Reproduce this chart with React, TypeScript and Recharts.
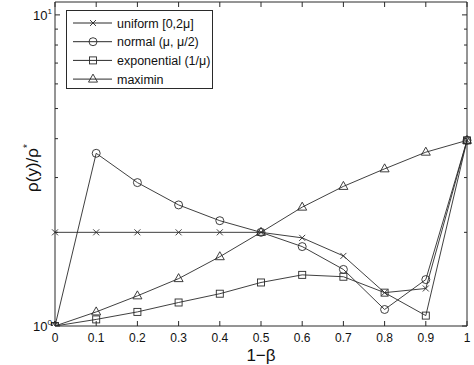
import React from "react";
import { LineChart, Line, XAxis, YAxis } from "recharts";

const xValues = [0, 0.1, 0.2, 0.3, 0.4, 0.5, 0.6, 0.7, 0.8, 0.9, 1];
const uniform = [2, 2, 2, 2, 2, 2, 1.92, 1.68, 1.28, 1.32, 3.95];
const normal = [1, 3.59, 2.89, 2.45, 2.18, 2.0, 1.8, 1.52, 1.13, 1.41, 3.95];
const exponential = [1, 1.05, 1.11, 1.19, 1.27, 1.38, 1.46, 1.44, 1.28, 1.08, 3.95];
const maximin = [1, 1.11, 1.25, 1.42, 1.67, 2.0, 2.41, 2.81, 3.2, 3.62, 3.95];

const xTicks = [0, 0.1, 0.2, 0.3, 0.4, 0.5, 0.6, 0.7, 0.8, 0.9, 1];
const xTickLabels = ["0", "0.1", "0.2", "0.3", "0.4", "0.5", "0.6", "0.7", "0.8", "0.9", "1"];
const yTicks = [1, 2, 3, 4, 5, 6, 7, 8, 9, 10];
const yMajor = [1, 10];
const yMajorExp = ["0", "1"];

const seriesNames = ["uniform [0,2\u03bc]", "normal (\u03bc, \u03bc/2)", "exponential (1/\u03bc)", "maximin"];
const seriesKeys = ["uniform", "normal", "exponential", "maximin"];
const markerKinds = ["x", "o", "s", "t"];

const data = xValues.map((x, i) => ({
  x,
  uniform: uniform[i],
  normal: normal[i],
  exponential: exponential[i],
  maximin: maximin[i],
}));

const INK = "#2a2a2a";
const FONT = "'Liberation Sans', Arial, Helvetica, sans-serif";

function Marker({ kind, cx, cy }: { kind: string; cx: number; cy: number }) {
  if (cx == null || cy == null || isNaN(cx) || isNaN(cy)) return null;
  const common = { fill: "none", stroke: INK, strokeWidth: 0.9 };
  if (kind === "x") {
    const d = 3;
    return (
      <path d={`M${cx - d},${cy - d}L${cx + d},${cy + d}M${cx - d},${cy + d}L${cx + d},${cy - d}`} {...common} />
    );
  }
  if (kind === "o") return <circle cx={cx} cy={cy} r={4} {...common} />;
  if (kind === "s") return <rect x={cx - 3.5} y={cy - 3.5} width={7} height={7} {...common} />;
  return <path d={`M${cx},${cy - 5}L${cx + 4.5},${cy + 3}L${cx - 4.5},${cy + 3}Z`} {...common} />;
}

const makeDot = (kind: string) => (p: any) => (
  <g key={`${kind}-${p.index}`}>
    <Marker kind={kind} cx={p.cx} cy={p.cy} />
  </g>
);

const LeftTick = (p: any) => {
  const v = p.payload.value;
  const idx = yMajor.indexOf(v);
  const major = idx >= 0;
  return (
    <g>
      <line x1={p.x} y1={p.y} x2={p.x + (major ? 5 : 3)} y2={p.y} stroke={INK} strokeWidth={1} />
      {major && (
        <text x={p.x - 3} y={p.y + 5} textAnchor="end" fontFamily={FONT} fontSize={13} fill="#111">
          10
          <tspan dy={-6} fontSize={8}>
            {yMajorExp[idx]}
          </tspan>
        </text>
      )}
    </g>
  );
};

const RightTick = (p: any) => {
  const major = yMajor.indexOf(p.payload.value) >= 0;
  return <line x1={p.x} y1={p.y} x2={p.x - (major ? 5 : 3)} y2={p.y} stroke={INK} strokeWidth={1} />;
};

const BottomTick = (p: any) => {
  const i = xTicks.indexOf(p.payload.value);
  return (
    <g>
      <line x1={p.x} y1={p.y} x2={p.x} y2={p.y - 5} stroke={INK} strokeWidth={1} />
      <text x={p.x} y={p.y + 16} textAnchor="middle" fontFamily={FONT} fontSize={12} fill="#111">
        {xTickLabels[i]}
      </text>
    </g>
  );
};

const TopTick = (p: any) => (
  <line x1={p.x} y1={p.y} x2={p.x} y2={p.y + 5} stroke={INK} strokeWidth={1} />
);

const LegendBox = () => (
  <div
    style={{
      position: "absolute",
      left: 66,
      top: 10,
      width: 147,
      height: 79,
      border: `1px solid ${INK}`,
      background: "#fff",
      boxSizing: "border-box",
    }}
  >
    <svg width={145} height={77} style={{ display: "block" }}>
      {seriesNames.map((n, i) => {
        const cy = 12 + i * 18.7;
        return (
          <g key={n}>
            <line x1={6} y1={cy} x2={45} y2={cy} stroke={INK} strokeWidth={1} />
            <Marker kind={markerKinds[i]} cx={26} cy={cy} />
            <text x={50} y={cy + 4.5} fontFamily={FONT} fontSize={12.5} fill="#111">
              {n}
            </text>
          </g>
        );
      })}
    </svg>
  </div>
);

const YLabel = () => (
  <text
    x={38}
    y={168}
    transform="rotate(-90 38 168)"
    textAnchor="middle"
    fontFamily={FONT}
    fontSize={17}
    fill="#111"
  >
    {"\u03c1(y)/\u03c1"}
    <tspan dy={-7} fontSize={10}>
      *
    </tspan>
  </text>
);

const XLabel = () => (
  <text x={261} y={361} textAnchor="middle" fontFamily={FONT} fontSize={17} fill="#111">
    {"1\u2212\u03b2"}
  </text>
);

export default function App() {
  return (
    <div style={{ position: "absolute", left: 0, top: 0, width: 474, height: 365, background: "#fff" }}>
      <LineChart width={474} height={365} data={data} margin={{ top: 0, right: 0, bottom: 0, left: 0 }}>
        <XAxis
          dataKey="x"
          type="number"
          domain={[0, 1]}
          ticks={xTicks}
          height={39}
          tickSize={0}
          tickMargin={0}
          tickLine={false}
          axisLine={{ stroke: INK, strokeWidth: 1 }}
          tick={<BottomTick />}
          interval={0}
          label={<XLabel />}
        />
        <XAxis
          xAxisId="top"
          orientation="top"
          dataKey="x"
          type="number"
          domain={[0, 1]}
          ticks={xTicks}
          height={2}
          tickSize={0}
          tickMargin={0}
          tickLine={false}
          axisLine={{ stroke: INK, strokeWidth: 1 }}
          tick={<TopTick />}
          interval={0}
        />
        <YAxis
          type="number"
          scale="log"
          domain={[1, 11]}
          allowDataOverflow
          ticks={yTicks}
          width={55}
          tickSize={0}
          tickMargin={0}
          tickLine={false}
          axisLine={{ stroke: INK, strokeWidth: 1 }}
          tick={<LeftTick />}
          interval={0}
          label={<YLabel />}
        />
        <YAxis
          yAxisId="right"
          orientation="right"
          type="number"
          scale="log"
          domain={[1, 11]}
          allowDataOverflow
          ticks={yTicks}
          width={7}
          tickSize={0}
          tickMargin={0}
          tickLine={false}
          axisLine={{ stroke: INK, strokeWidth: 1 }}
          tick={<RightTick />}
          interval={0}
        />
        {seriesKeys.map((k, i) => (
          <Line
            key={k}
            dataKey={k}
            type="linear"
            stroke={INK}
            strokeWidth={0.9}
            dot={makeDot(markerKinds[i])}
            activeDot={false}
            isAnimationActive={false}
          />
        ))}
      </LineChart>
      <LegendBox />
    </div>
  );
}
